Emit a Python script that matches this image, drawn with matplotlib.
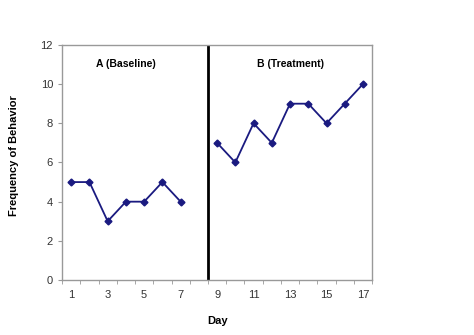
import numpy as np
import matplotlib.pyplot as plt

plt.rcParams['font.family'] = ['Liberation Sans', 'DejaVu Sans']

base_days = [1, 2, 3, 4, 5, 6, 7]
base_vals = [5, 5, 3, 4, 4, 5, 4]
treat_days = [9, 10, 11, 12, 13, 14, 15, 16, 17]
treat_vals = [7, 6, 8, 7, 9, 9, 8, 9, 10]
tick_days = [1, 3, 5, 7, 9, 11, 13, 15, 17]
phase_change = 8.5

fig = plt.figure(figsize=(4.74, 3.35), dpi=100)
ax = fig.add_axes([0.131, 0.164, 0.654, 0.702])

navy = '#1a1a80'
ax.plot(base_days, base_vals, color=navy, marker='D', markersize=3.5, linewidth=1.3)
ax.plot(treat_days, treat_vals, color=navy, marker='D', markersize=3.5, linewidth=1.3)
ax.axvline(phase_change, color='black', linewidth=2)

ax.set_xlim(0.5, 17.5)
ax.set_ylim(0, 12)
ax.set_yticks(np.arange(0, 13, 2))
ax.set_xticks(tick_days)
ax.set_xticks(np.arange(0.5, 18, 1), minor=True)
ax.tick_params(axis='x', which='major', length=0, labelsize=8, colors='#333333', pad=7)
ax.tick_params(axis='x', which='minor', length=3, color='#999999', direction='out')
ax.tick_params(axis='y', length=3, color='#999999', labelsize=8, labelcolor='#333333')
for s in ax.spines.values():
    s.set_color('#999999')
    s.set_linewidth(1)

ax.text(4.0, 11.0, 'A (Baseline)', fontsize=7.5, fontweight='bold', ha='center', va='center')
ax.text(13.0, 11.0, 'B (Treatment)', fontsize=7.5, fontweight='bold', ha='center', va='center')

ax.set_xlabel('Day', fontsize=8, fontweight='bold', labelpad=12)
ax.set_ylabel('Frequency of Behavior', fontsize=8, fontweight='bold')
ax.yaxis.set_label_coords(-0.14, 0.53)

fig.savefig('out.png', dpi=100)
